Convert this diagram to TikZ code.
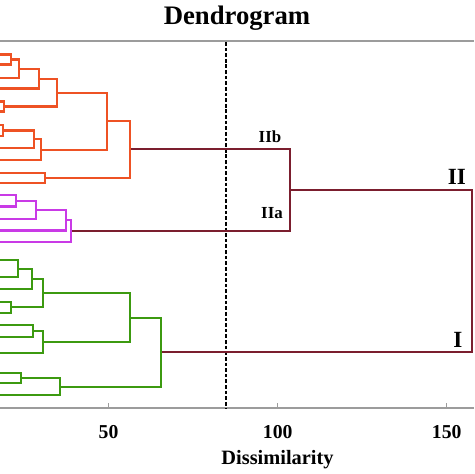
\documentclass[tikz,border=0pt]{standalone}
\usepackage{fontspec}
\setmainfont{Liberation Serif}
\definecolor{DendroOrange}{HTML}{EE5224}
\definecolor{DendroViolet}{HTML}{C93AE6}
\definecolor{DendroGreen}{HTML}{3C9A10}
\definecolor{DendroMaroon}{HTML}{7B1E2E}
\definecolor{DendroGray}{HTML}{9C9C9C}
\begin{document}
\begin{tikzpicture}[x=0.25mm,y=-0.25mm,every node/.style={font=\bfseries,inner sep=0pt}]
    \tikzset{link/.style={line width=1.5pt},
      axisline/.style={DendroGray,line width=0.8pt},
      cutline/.style={line width=1.2pt,dash pattern=on 2.6pt off 1.4pt},
      tick/.style={font=\fontsize{14}{16}\selectfont\bfseries},
      group/.style={font=\fontsize{12}{14}\selectfont\bfseries},
      clade/.style={font=\fontsize{16.5}{18}\selectfont\bfseries}}
    \useasboundingbox (0,0) rectangle (474,474);
    \node[font=\fontsize{19}{22}\selectfont\bfseries] (title) at (237,18) {Dendrogram};
    \draw[axisline] (0,41) -- (474,41);
    \draw[axisline] (0,408) -- (474,408);
    \foreach \n/\x in {50/108.5,100/277.7,150/446.7}{
      \draw[axisline] (\x,403) -- (\x,408);
      \node[tick] (t\n) at (\x,432) {\n};}
    \node[font=\fontsize{14.5}{17}\selectfont\bfseries] (xlabel) at (277.5,460) {Dissimilarity};
    \coordinate (cuttop) at (226,42);
    \coordinate (cutbot) at (226,408);
    \draw[cutline] (cuttop) -- (cutbot);
    \foreach \n/\y in {o1/54.5,o2/64.5,o3/78,o4/88.5,o5/101.5,o6/111.5,o7/125,o8/136,o9/148.3,o10/160,o11/172.7,o12/182.7,
      v1/195,v2/206.5,v3/219,v4/230.5,v5/241.7,
      g1/260,g2/277.3,g3/289.3,g4/301.7,g5/312.7,g6/325,g7/336.7,g8/353.3,g9/373.3,g10/383.3,g11/395}
      {\coordinate (\n) at (0,\y);}
    \foreach \n/\x/\y in {oa/10.7/59.5,ob/19.3/68.75,oc/39.3/78.6,od/4/106.5,oe/56.7/92.6,of/2.7/130.5,og/34/139.4,
      oh/40.7/149.7,oi/107.3/121.1,oj/45/177.7,ok/130/149.4,
      va/16/200.75,vb/36/209.9,vc/66/220.2,vd/70.7/231,
      ga/18.3/268.65,gb/31.7/279,gc/10.7/307.2,gd/43.3/293.1,ge/33.3/330.85,gf/42.7/342.1,gg/130/317.6,
      gh/20.7/378.3,gi/60/386.65,gj/161/352.1,
      ha/290/190.2,root/471.7/271.2}
      {\coordinate (\n) at (\x,\y);}
    \foreach \x/\y in {ok/ha,vd/ha,ha/root,gj/root}{\draw[link,DendroMaroon] (\x) -| (\y);}
    \foreach \x/\y in {o1/oa,o2/oa,oa/ob,o3/ob,ob/oc,o4/oc,o5/od,o6/od,oc/oe,od/oe,o7/of,o8/of,of/og,o9/og,
      og/oh,o10/oh,oe/oi,oh/oi,o11/oj,o12/oj,oi/ok,oj/ok}{\draw[link,DendroOrange] (\x) -| (\y);}
    \foreach \x/\y in {v1/va,v2/va,va/vb,v3/vb,vb/vc,v4/vc,vc/vd,v5/vd}{\draw[link,DendroViolet] (\x) -| (\y);}
    \foreach \x/\y in {g1/ga,g2/ga,ga/gb,g3/gb,g4/gc,g5/gc,gb/gd,gc/gd,g6/ge,g7/ge,ge/gf,g8/gf,gd/gg,gf/gg,
      g9/gh,g10/gh,gh/gi,g11/gi,gg/gj,gi/gj}{\draw[link,DendroGreen] (\x) -| (\y);}
    \node[group] (IIb) at (270,137) {IIb};
    \node[group] (IIa) at (272,213) {IIa};
    \node[clade] (II) at (457,177) {II};
    \node[clade] (I) at (458,340) {I};
  \end{tikzpicture}
\end{document}
